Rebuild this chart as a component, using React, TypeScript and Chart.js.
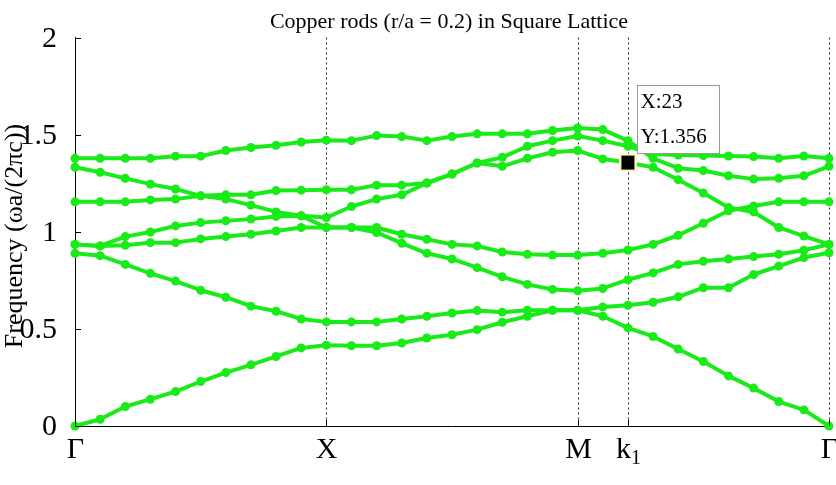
import React, { useEffect, useRef } from 'react';
import { Chart, registerables } from 'chart.js';

Chart.register(...registerables);

// k-path sample index (1..31)
const kIndex = [1, 2, 3, 4, 5, 6, 7, 8, 9, 10, 11, 12, 13, 14, 15, 16, 17, 18, 19, 20, 21, 22, 23, 24, 25, 26, 27, 28, 29, 30, 31];

// band frequencies (ωa/2πc)
const band1 = [0, 0.035, 0.1, 0.138, 0.177, 0.229, 0.275, 0.315, 0.358, 0.402, 0.416, 0.413, 0.413, 0.427, 0.453, 0.47, 0.496, 0.534, 0.565, 0.596, 0.596, 0.565, 0.505, 0.461, 0.396, 0.332, 0.258, 0.195, 0.126, 0.083, 0];
const band2 = [0.889, 0.877, 0.832, 0.786, 0.746, 0.699, 0.663, 0.617, 0.591, 0.551, 0.536, 0.536, 0.536, 0.551, 0.565, 0.582, 0.594, 0.586, 0.596, 0.596, 0.596, 0.613, 0.622, 0.637, 0.665, 0.712, 0.712, 0.78, 0.823, 0.867, 0.892];
const band3 = [0.935, 0.927, 0.93, 0.944, 0.944, 0.963, 0.975, 0.987, 1.004, 1.022, 1.022, 1.022, 0.996, 0.941, 0.889, 0.86, 0.815, 0.768, 0.729, 0.703, 0.696, 0.708, 0.753, 0.788, 0.832, 0.848, 0.86, 0.872, 0.884, 0.905, 0.935];
const band4 = [0.935, 0.927, 0.975, 0.999, 1.03, 1.047, 1.056, 1.065, 1.079, 1.082, 1.073, 1.13, 1.168, 1.19, 1.251, 1.297, 1.354, 1.337, 1.378, 1.409, 1.418, 1.375, 1.356, 1.332, 1.268, 1.199, 1.125, 1.102, 1.022, 0.978, 0.935];
const band5 = [1.332, 1.306, 1.275, 1.245, 1.22, 1.185, 1.168, 1.137, 1.102, 1.082, 1.022, 1.022, 1.022, 0.987, 0.961, 0.935, 0.927, 0.896, 0.884, 0.88, 0.88, 0.889, 0.906, 0.935, 0.982, 1.044, 1.108, 1.133, 1.154, 1.154, 1.154];
const band6 = [1.154, 1.154, 1.154, 1.164, 1.168, 1.185, 1.19, 1.19, 1.212, 1.214, 1.216, 1.216, 1.24, 1.24, 1.251, 1.297, 1.354, 1.383, 1.44, 1.469, 1.493, 1.469, 1.44, 1.4, 1.395, 1.392, 1.39, 1.387, 1.378, 1.39, 1.378];
const band7 = [1.378, 1.378, 1.378, 1.378, 1.389, 1.389, 1.418, 1.434, 1.445, 1.462, 1.471, 1.469, 1.495, 1.49, 1.469, 1.49, 1.504, 1.504, 1.504, 1.521, 1.534, 1.526, 1.469, 1.378, 1.327, 1.315, 1.288, 1.271, 1.275, 1.288, 1.337];

const bands = [band1, band2, band3, band4, band5, band6, band7];

// symmetry points / tick labels
const symPos = [1, 11, 21, 23, 31];
const symLabels = ['Γ', 'X', 'M', 'k', 'Γ'];
const symSubs = ['', '', '', '1', ''];
const gridPos = [11, 21, 23, 31];
const yTickVals = [0, 0.5, 1, 1.5, 2];
const yTickLabels = ['0', '0.5', '1', '1.5', '2'];

const titleText = 'Copper rods (r/a = 0.2) in Square Lattice';
const yTitleText = 'Frequency (ωa/(2πc))';

// data tip
const tipX = 23;
const tipY = 1.356;
const tipLines = ['X:23', 'Y:1.356'];

const SERIF = "'Liberation Serif', 'Times New Roman', 'DejaVu Serif', serif";
const GREEN = 'rgb(25,235,25)';

const decorPlugin = {
  id: 'decor',
  beforeDatasetsDraw(chart: any) {
    const { ctx, chartArea, scales } = chart;
    const xs = scales.x;
    ctx.save();
    ctx.strokeStyle = '#222';
    ctx.lineWidth = 1;
    ctx.setLineDash([2, 3]);
    gridPos.forEach((g) => {
      const px = Math.round(xs.getPixelForValue(g)) + 0.5;
      ctx.beginPath();
      ctx.moveTo(px, chartArea.top);
      ctx.lineTo(px, chartArea.bottom);
      ctx.stroke();
    });
    ctx.restore();
  },
  afterDraw(chart: any) {
    const { ctx, chartArea, scales } = chart;
    const xs = scales.x;
    const ys = scales.y;
    ctx.save();
    ctx.fillStyle = '#000';
    ctx.strokeStyle = '#000';
    ctx.lineWidth = 1;
    ctx.setLineDash([]);

    // y ticks (inward) + labels
    ctx.font = `30px ${SERIF}`;
    ctx.textAlign = 'right';
    ctx.textBaseline = 'middle';
    yTickVals.forEach((v, i) => {
      const py = Math.round(ys.getPixelForValue(v)) + 0.5;
      ctx.beginPath();
      ctx.moveTo(chartArea.left, py);
      ctx.lineTo(chartArea.left + 6, py);
      ctx.stroke();
      ctx.fillText(yTickLabels[i], chartArea.left - 18, py + 1);
    });

    // x ticks (inward) + labels
    ctx.textBaseline = 'alphabetic';
    symPos.forEach((p, i) => {
      const px = Math.round(xs.getPixelForValue(p)) + 0.5;
      ctx.beginPath();
      ctx.moveTo(px, chartArea.bottom);
      ctx.lineTo(px, chartArea.bottom - 6);
      ctx.stroke();
      const base = chartArea.bottom + 32;
      ctx.font = `30px ${SERIF}`;
      const w1 = ctx.measureText(symLabels[i]).width;
      let w2 = 0;
      if (symSubs[i]) {
        ctx.font = `20px ${SERIF}`;
        w2 = ctx.measureText(symSubs[i]).width;
      }
      const start = px - (w1 + w2) / 2;
      ctx.textAlign = 'left';
      ctx.font = `30px ${SERIF}`;
      ctx.fillText(symLabels[i], start, base);
      if (symSubs[i]) {
        ctx.font = `20px ${SERIF}`;
        ctx.fillText(symSubs[i], start + w1, base + 6);
      }
    });

    // title
    ctx.font = `22px ${SERIF}`;
    ctx.textAlign = 'center';
    ctx.textBaseline = 'alphabetic';
    ctx.fillText(titleText, 449, 28);

    // y axis title
    ctx.save();
    ctx.translate(22, 236);
    ctx.rotate(-Math.PI / 2);
    ctx.font = `26px ${SERIF}`;
    ctx.textAlign = 'center';
    ctx.textBaseline = 'alphabetic';
    ctx.fillText(yTitleText, 0, 0);
    ctx.restore();

    // data tip marker
    const mx = xs.getPixelForValue(tipX);
    const my = ys.getPixelForValue(tipY);
    ctx.fillStyle = '#fff8b8';
    ctx.fillRect(mx - 9, my - 9, 18, 18);
    ctx.fillStyle = '#000';
    ctx.fillRect(mx - 6.5, my - 7, 13, 14);

    // data tip box
    const bx = Math.round(mx + 9) + 0.5;
    const by = Math.round(my - 78) + 0.5;
    ctx.fillStyle = '#fff';
    ctx.fillRect(bx, by, 82, 68);
    ctx.strokeStyle = '#9a9a9a';
    ctx.strokeRect(bx, by, 82, 68);
    ctx.fillStyle = '#000';
    ctx.font = `21px ${SERIF}`;
    ctx.textAlign = 'left';
    ctx.fillText(tipLines[0], bx + 3, by + 22);
    ctx.fillText(tipLines[1], bx + 3, by + 57);
    ctx.restore();
  },
};

export default function App() {
  const ref = useRef<HTMLCanvasElement | null>(null);
  useEffect(() => {
    document.body.style.margin = '0';
    const canvas = ref.current;
    if (!canvas) return;
    const chart = new Chart(canvas, {
      type: 'line',
      data: {
        datasets: bands.map((b, bi) => ({
          label: `band ${bi + 1}`,
          data: kIndex.map((k, i) => ({ x: k, y: b[i] })),
          borderColor: GREEN,
          backgroundColor: GREEN,
          pointBackgroundColor: GREEN,
          pointBorderColor: GREEN,
          pointRadius: 4.5,
          pointBorderWidth: 0,
          borderWidth: 4,
          tension: 0,
          borderJoinStyle: 'round',
          borderCapStyle: 'round',
          fill: false,
          clip: false,
        })),
      },
      options: {
        responsive: false,
        animation: false,
        devicePixelRatio: 1,
        layout: { padding: { left: 75, right: 7, top: 37.5, bottom: 59 } },
        plugins: {
          legend: { display: false },
          tooltip: { enabled: false },
          title: { display: false },
        },
        scales: {
          x: {
            type: 'linear',
            min: 1,
            max: 31,
            ticks: { display: false },
            grid: { display: false, drawTicks: false },
            border: { display: true, color: '#000', width: 1 },
          },
          y: {
            type: 'linear',
            min: 0,
            max: 2,
            ticks: { display: false },
            grid: { display: false, drawTicks: false },
            border: { display: true, color: '#000', width: 1 },
          },
        },
      },
      plugins: [decorPlugin],
    } as any);
    return () => chart.destroy();
  }, []);
  return (
    <div style={{ width: 836, height: 485 }}>
      <canvas ref={ref} width={836} height={485} style={{ display: 'block' }} />
    </div>
  );
}
